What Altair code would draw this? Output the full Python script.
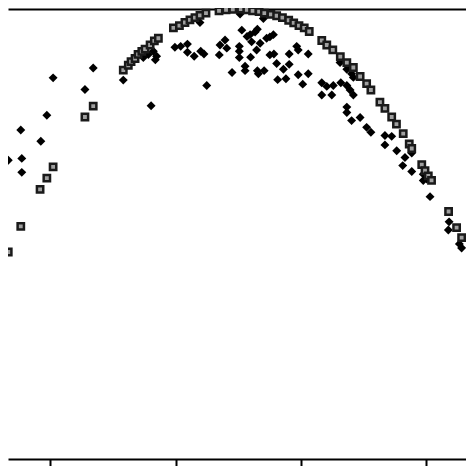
import altair as alt
import pandas as pd

# Series A: grey squares
sq_x = [-94.0, -91.8, -86.8, -79.1, -76.4, -73.9, -61.2, -57.9, -45.9, -43.9,
        -42.8, -41.2, -40.0, -38.5, -37.2, -35.2, -33.5, -31.9, -25.9, -23.5,
        -21.3, -19.3, -17.3, -15.3, -12.9, -7.7, -4.9, -2.2, 1.0, 3.4,
        5.7, 8.3, 10.4, 13.0, 15.3, 17.6, 20.1, 22.1, 24.2, 26.3,
        28.3, 33.3, 35.3, 37.7, 40.7, 43.3, 45.9, 48.6, 51.2, 52.9,
        56.5, 58.5, 61.2, 63.1, 65.8, 68.2, 69.2, 73.2, 74.5, 75.8,
        77.1, 83.9, 87.1, 89.1, 93.6]
sq_y = [43.2, 46.0, 51.7, 59.9, 62.4, 64.9, 76.0, 78.4, 86.4, 87.5,
        88.3, 89.0, 89.9, 90.6, 91.1, 92.0, 92.9, 93.5, 95.8, 96.3,
        97.0, 97.6, 98.1, 98.6, 99.1, 99.6, 99.8, 99.9, 100.0, 99.8,
        99.6, 99.4, 99.1, 98.8, 98.5, 98.1, 97.5, 96.9, 96.3, 95.8,
        95.0, 93.0, 92.0, 90.9, 89.4, 88.1, 87.0, 85.0, 83.4, 82.0,
        79.3, 77.9, 76.0, 74.4, 72.3, 70.0, 69.0, 65.4, 64.1, 62.9,
        61.9, 55.0, 51.4, 49.2, 42.9]

# Series B: black diamonds
dm_x = [-94.0, -94.0, -91.8, -86.8, -86.4, -86.4, -78.8, -76.4, -73.9, -61.2,
        -57.9, -45.9, -34.8, -37.9, -35.9, -33.9, -32.6, -33.1, -25.3, -23.0,
        -20.3, -20.3, -17.6, -15.0, -13.7, -15.3, -12.6, -7.6, -7.3, -5.3,
        -4.6, -2.5, 0.7, 10.0, 1.4, 4.7, 3.5, 6.7, 7.6, 0.4,
        0.4, 0.4, 5.3, 8.7, 7.3, 4.9, 11.3, 12.6, 14.0, 12.6,
        14.2, 20.3, 23.3, 23.9, 27.9, 15.3, 18.0, 20.3, 2.7, 2.7,
        7.6, 8.0, 10.3, 15.7, 19.0, 23.9, 27.9, 25.7, 33.3, 35.3,
        33.3, 37.3, 37.9, 40.9, 43.3, 44.6, 45.9, 40.6, 43.3, 45.2,
        45.9, 43.3, 43.3, 45.2, 48.6, 51.2, 52.9, 58.5, 61.2, 58.5,
        63.2, 66.5, 65.6, 69.2, 69.2, 73.8, 73.8, 75.2, 76.5, 84.1,
        83.8, 88.2, 89.1, 93.8]
dm_y = [80.0, 63.3, 66.4, 73.1, 66.8, 63.7, 70.6, 76.4, 84.7, 82.1,
        86.9, 84.2, 78.5, 89.2, 89.9, 90.6, 89.5, 88.7, 91.5, 91.7,
        92.2, 90.4, 89.5, 90.6, 90.0, 97.0, 83.0, 89.8, 92.0, 93.1,
        91.3, 85.9, 98.9, 97.9, 95.3, 94.3, 93.9, 94.9, 95.5, 91.7,
        90.6, 89.2, 92.7, 92.4, 90.9, 89.3, 93.5, 93.8, 94.3, 89.8,
        90.0, 90.0, 91.7, 90.9, 90.0, 87.9, 86.6, 87.7, 87.3, 86.3,
        86.3, 85.6, 86.3, 84.3, 84.5, 85.4, 85.6, 83.3, 83.6, 82.8,
        80.9, 80.9, 83.0, 83.6, 83.0, 82.0, 80.9, 88.1, 86.6, 85.6,
        84.8, 78.2, 77.0, 75.2, 75.9, 73.7, 72.6, 71.9, 71.7, 69.8,
        68.5, 67.0, 65.2, 63.9, 68.0, 63.3, 61.9, 62.2, 58.3, 52.7,
        50.9, 47.8, 46.9, 40.2]

tick_vals = [-75, -25, 25, 75]

sq_df = pd.DataFrame({"x": sq_x, "y": sq_y})
dm_df = pd.DataFrame({"x": dm_x, "y": dm_y})

xs = alt.Scale(domain=[-91.9, 90.85], nice=False, zero=False)
ys = alt.Scale(domain=[0, 100], nice=False, zero=False)

x_bottom = alt.X("x:Q", scale=xs,
                 axis=alt.Axis(orient="bottom", values=tick_vals, labels=False, title=None,
                               grid=False, domainColor="#000", domainWidth=2,
                               tickColor="#000", tickWidth=2, tickSize=8))
y_enc = alt.Y("y:Q", scale=ys, axis=None)

diamonds = alt.Chart(dm_df).mark_point(
    shape="diamond", filled=True, color="#000", size=80, opacity=1
).encode(x=x_bottom, y=y_enc)

squares = alt.Chart(sq_df).mark_point(
    shape="square", filled=True, fill="#a0a0a0", stroke="#1a1a1a",
    strokeWidth=2.5, size=40, opacity=1
).encode(
    x=alt.X("x:Q", scale=xs,
            axis=alt.Axis(orient="top", labels=False, ticks=False, title=None, grid=False,
                          domainColor="#000", domainWidth=2)),
    y=y_enc)

chart = alt.layer(diamonds, squares).properties(
    width=458, height=450,
    autosize=alt.AutoSizeParams(type="none"),
    padding={"left": 0, "top": 1, "right": 0, "bottom": 7},
).configure_view(stroke=None)

chart.save("out.html", embed_options={"renderer": "svg", "actions": False})
